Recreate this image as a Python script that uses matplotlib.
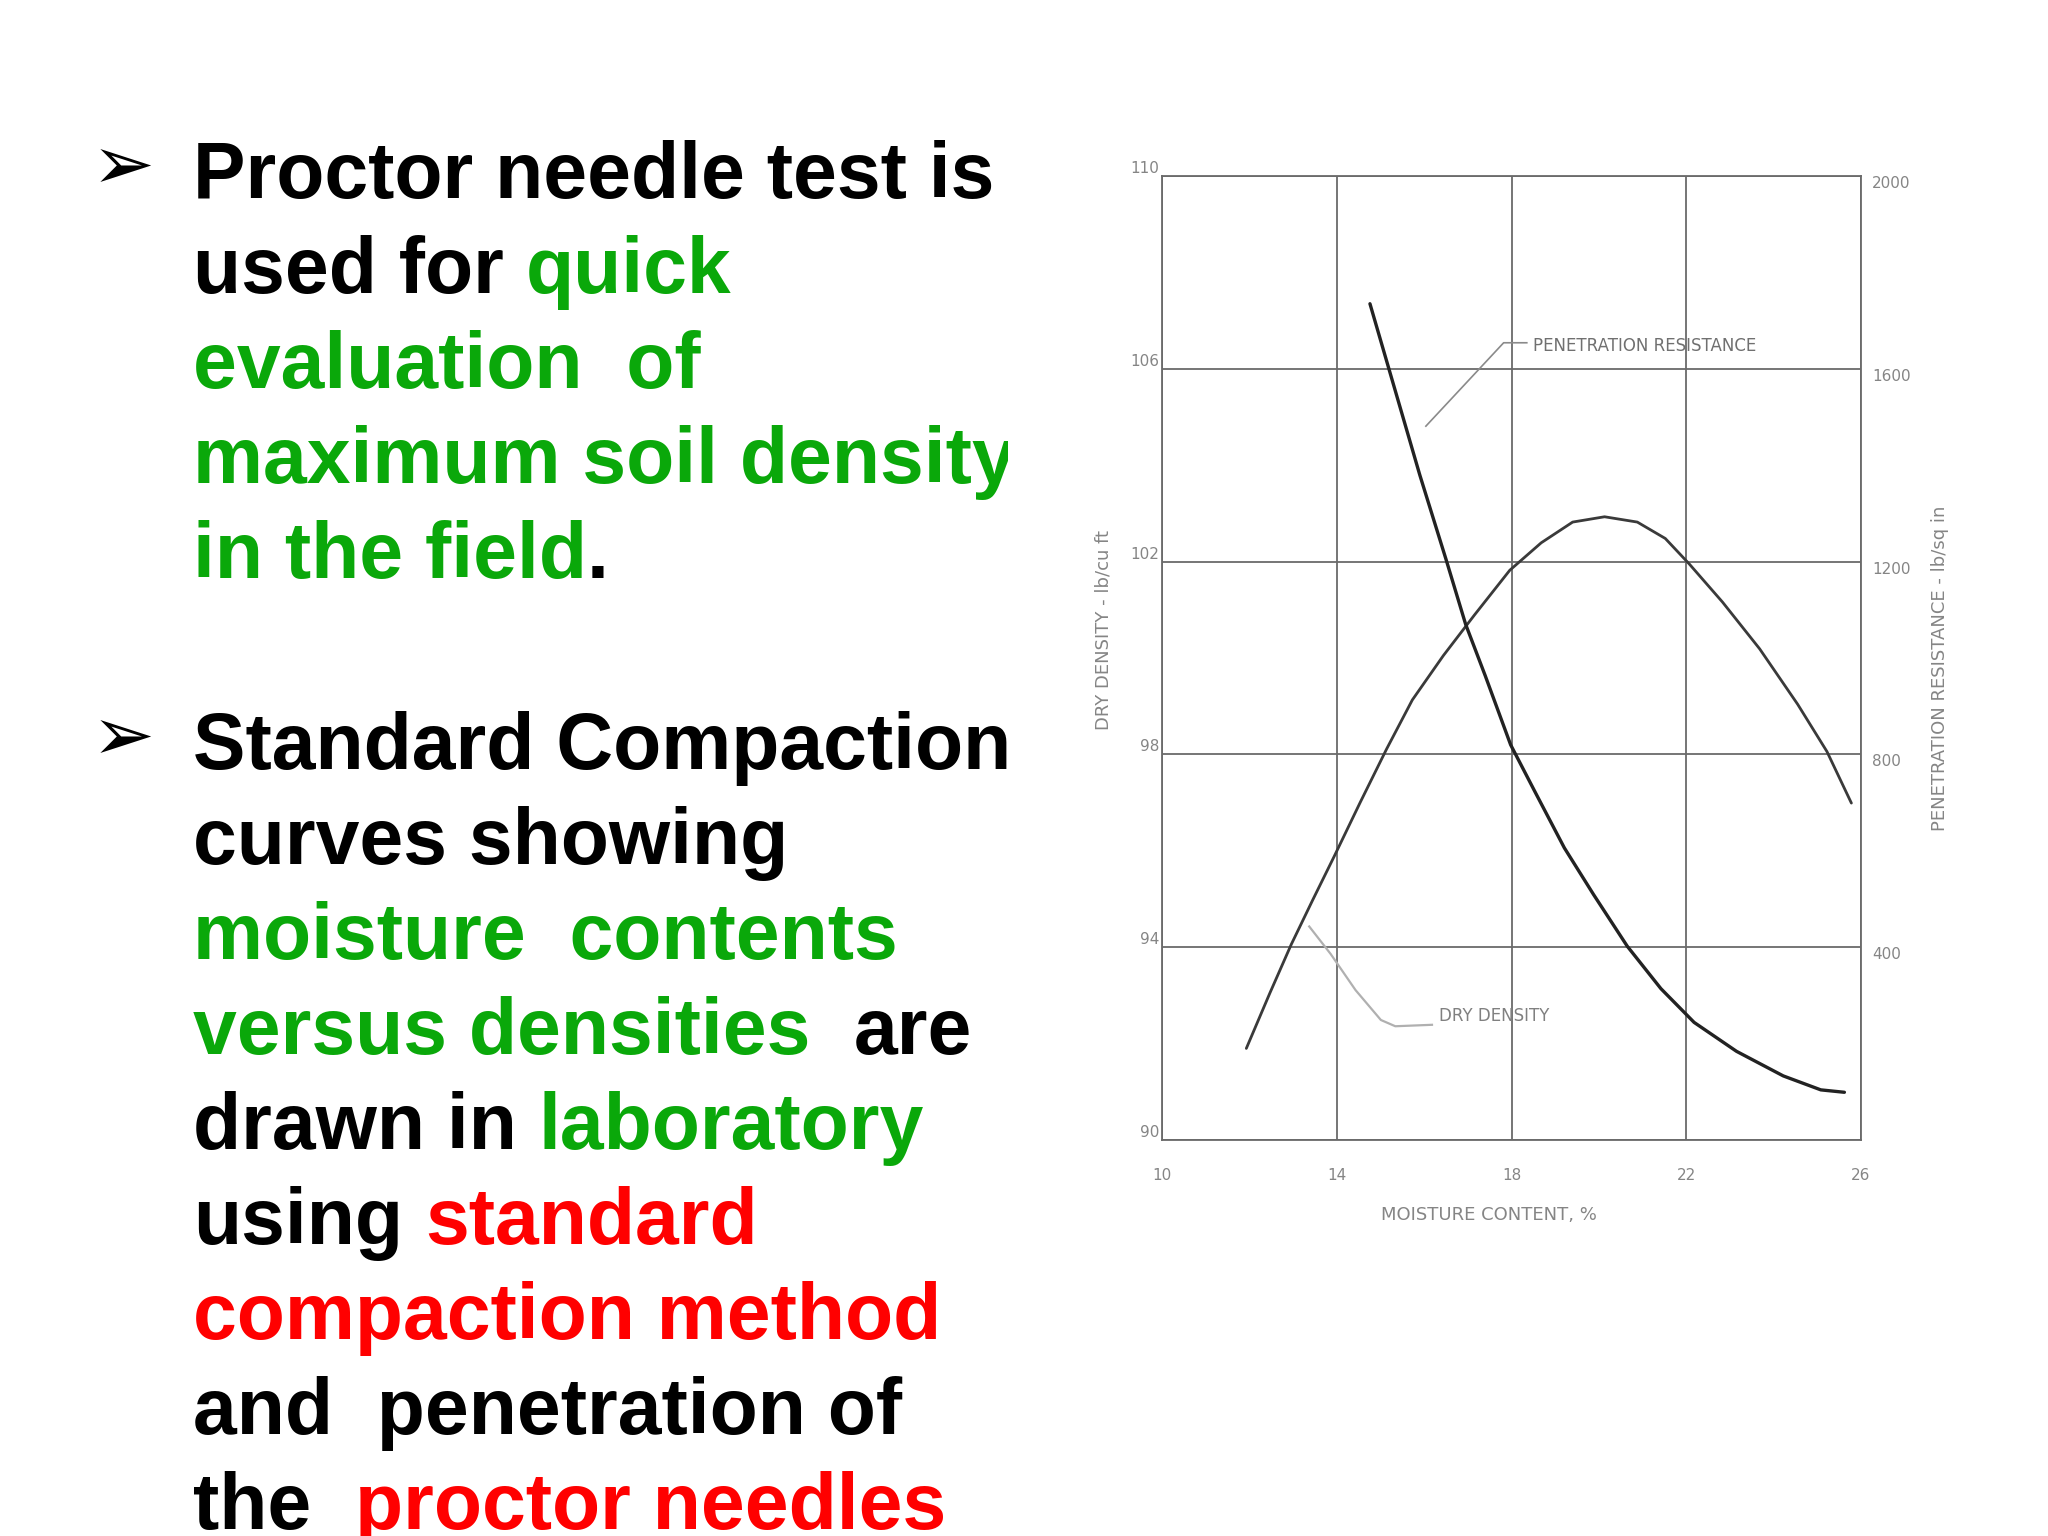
import matplotlib
matplotlib.use('Agg')
import matplotlib.pyplot as plt
from matplotlib.font_manager import FontProperties

# ---- slide text: each line is a list of (text, colour key) runs ----
text_lines = [
    [('Proctor needle test is', 'k')],
    [('used for ', 'k'), ('quick', 'g')],
    [('evaluation  of', 'g')],
    [('maximum soil density', 'g')],
    [('in the field', 'g'), ('.', 'k')],
    [],
    [('Standard Compaction', 'k')],
    [('curves showing', 'k')],
    [('moisture  contents', 'g')],
    [('versus densities', 'g'), ('  are', 'k')],
    [('drawn in ', 'k'), ('laboratory', 'g')],
    [('using ', 'k'), ('standard', 'r')],
    [('compaction method', 'r')],
    [('and  penetration of', 'k')],
    [('the  ', 'k'), ('proctor needles', 'r')],
]
bullet_lines = [0, 6]
colours = {'k': '#000000', 'g': '#0aa80a', 'r': '#ff0000'}

# ---- chart data ----
moisture_density = [11.93, 12.47, 12.96, 13.45, 13.95, 14.54, 15.14, 15.73, 16.44, 17.15, 17.96,
                    18.68, 19.40, 20.13, 20.88, 21.52, 22.07, 22.83, 23.68, 24.55, 25.22, 25.78]
dry_density = [91.90, 93.05, 94.06, 94.98, 95.90, 97.01, 98.11, 99.13, 100.05, 100.89, 101.82,
               102.39, 102.82, 102.93, 102.82, 102.48, 101.95, 101.16, 100.19, 99.04, 98.06, 96.99]
moisture_pen = [14.76, 15.90, 16.50, 16.95, 17.40, 17.98, 18.54, 19.21, 19.88, 20.65, 21.42,
                22.18, 23.15, 24.22, 25.08, 25.62]
pen_resistance = [1735, 1380, 1205, 1070, 963, 820, 722, 606, 509, 402, 314,
                  244, 184, 133, 104, 99]

x_ticks = [10, 14, 18, 22, 26]
density_ticks = [90, 94, 98, 102, 106, 110]
resist_ticks = [400, 800, 1200, 1600, 2000]

# label leaders
pen_leader_x = [16.04, 17.82, 18.35]
pen_leader_y = [104.81, 106.54, 106.54]
pen_label_pos = (18.49, 106.48)
dd_leader_x = [13.37, 13.86, 14.43, 15.01, 15.34, 16.18]
dd_leader_y = [94.43, 93.86, 93.11, 92.49, 92.36, 92.39]
dd_label_pos = (16.33, 92.58)

W, H = 2048, 1536
fig = plt.figure(figsize=(W / 100, H / 100), dpi=100)
fig.patch.set_facecolor('white')
renderer = fig.canvas.get_renderer()

# ---------------- left text column ----------------
clip_w = 1008
tax = fig.add_axes([0, 0, clip_w / W, 1])
tax.set_xlim(0, clip_w)
tax.set_ylim(H, 0)
tax.axis('off')

fp = FontProperties(family='Liberation Sans', weight='bold', size=56.7)
first_base = 198
line_step = 95.1
text_x = 193


def width(s):
    return renderer.get_text_width_height_descent(s, fp, ismath=False)[0]


for i, runs in enumerate(text_lines):
    y = first_base + i * line_step
    prefix = ''
    for txt, c in runs:
        shown = txt.strip()
        if shown:
            off = width(prefix + txt.rstrip()) - width(shown) if prefix else 0
            tax.text(text_x + off, y, shown, fontproperties=fp, color=colours[c],
                     ha='left', va='baseline', clip_on=True)
        prefix += txt

for i in bullet_lines:
    y = first_base + i * line_step
    tax.text(92, y - 29, '\u27a2', family=['DejaVu Sans'], fontsize=54,
             color='black', ha='left', va='center')

# ---------------- chart ----------------
grey = '#6a6a6a'
lab_grey = '#858585'
ax = fig.add_axes([1162 / W, 1 - 1140 / H, (1861 - 1162) / W, (1140 - 176) / H])
ax.set_xlim(10, 26)
ax.set_ylim(90, 110)
ax.set_xticks(x_ticks)
ax.set_yticks(density_ticks)
ax.grid(True, color=grey, lw=1.3)
for s in ax.spines.values():
    s.set_color(grey)
    s.set_linewidth(1.3)
ax.tick_params(axis='both', length=0, labelsize=11, labelcolor=lab_grey)
ax.tick_params(axis='x', pad=20)
ax.tick_params(axis='y', pad=2)
for lab in ax.get_yticklabels():
    lab.set_va('bottom')

ax2 = ax.twinx()
ax2.set_ylim(0, 2000)
ax2.set_yticks(resist_ticks)
ax2.tick_params(axis='y', length=0, labelsize=11, labelcolor=lab_grey, pad=8)
for lab in ax2.get_yticklabels():
    lab.set_va('top')
for s in ax2.spines.values():
    s.set_visible(False)

ax.plot(moisture_density, dry_density, color='#3a3a3a', lw=2.0, solid_capstyle='round',
        solid_joinstyle='round')
ax2.plot(moisture_pen, pen_resistance, color='#222222', lw=2.4, solid_capstyle='round',
         solid_joinstyle='round')

ax.plot(pen_leader_x, pen_leader_y, color='#8a8a8a', lw=1.2)
ax.text(pen_label_pos[0], pen_label_pos[1], 'PENETRATION RESISTANCE', fontsize=12,
        color='#707070', ha='left', va='center')
ax.plot(dd_leader_x, dd_leader_y, color='#b0b0b0', lw=1.6)
ax.text(dd_label_pos[0], dd_label_pos[1], 'DRY DENSITY', fontsize=12,
        color='#808080', ha='left', va='center')

ax.set_ylabel('DRY DENSITY - lb/cu ft', fontsize=13, color=lab_grey, va='center')
ax.yaxis.set_label_coords(-0.084, 0.529)
ax2.set_ylabel('PENETRATION RESISTANCE - lb/sq in', fontsize=13, color=lab_grey,
               va='center', rotation=90)
ax2.yaxis.set_label_coords(1.113, 0.489)
ax.set_xlabel('MOISTURE CONTENT, %', fontsize=13, color=lab_grey, va='center')
ax.xaxis.set_label_coords(0.468, -0.078)

fig.savefig('out.png', dpi=100, facecolor='white')
